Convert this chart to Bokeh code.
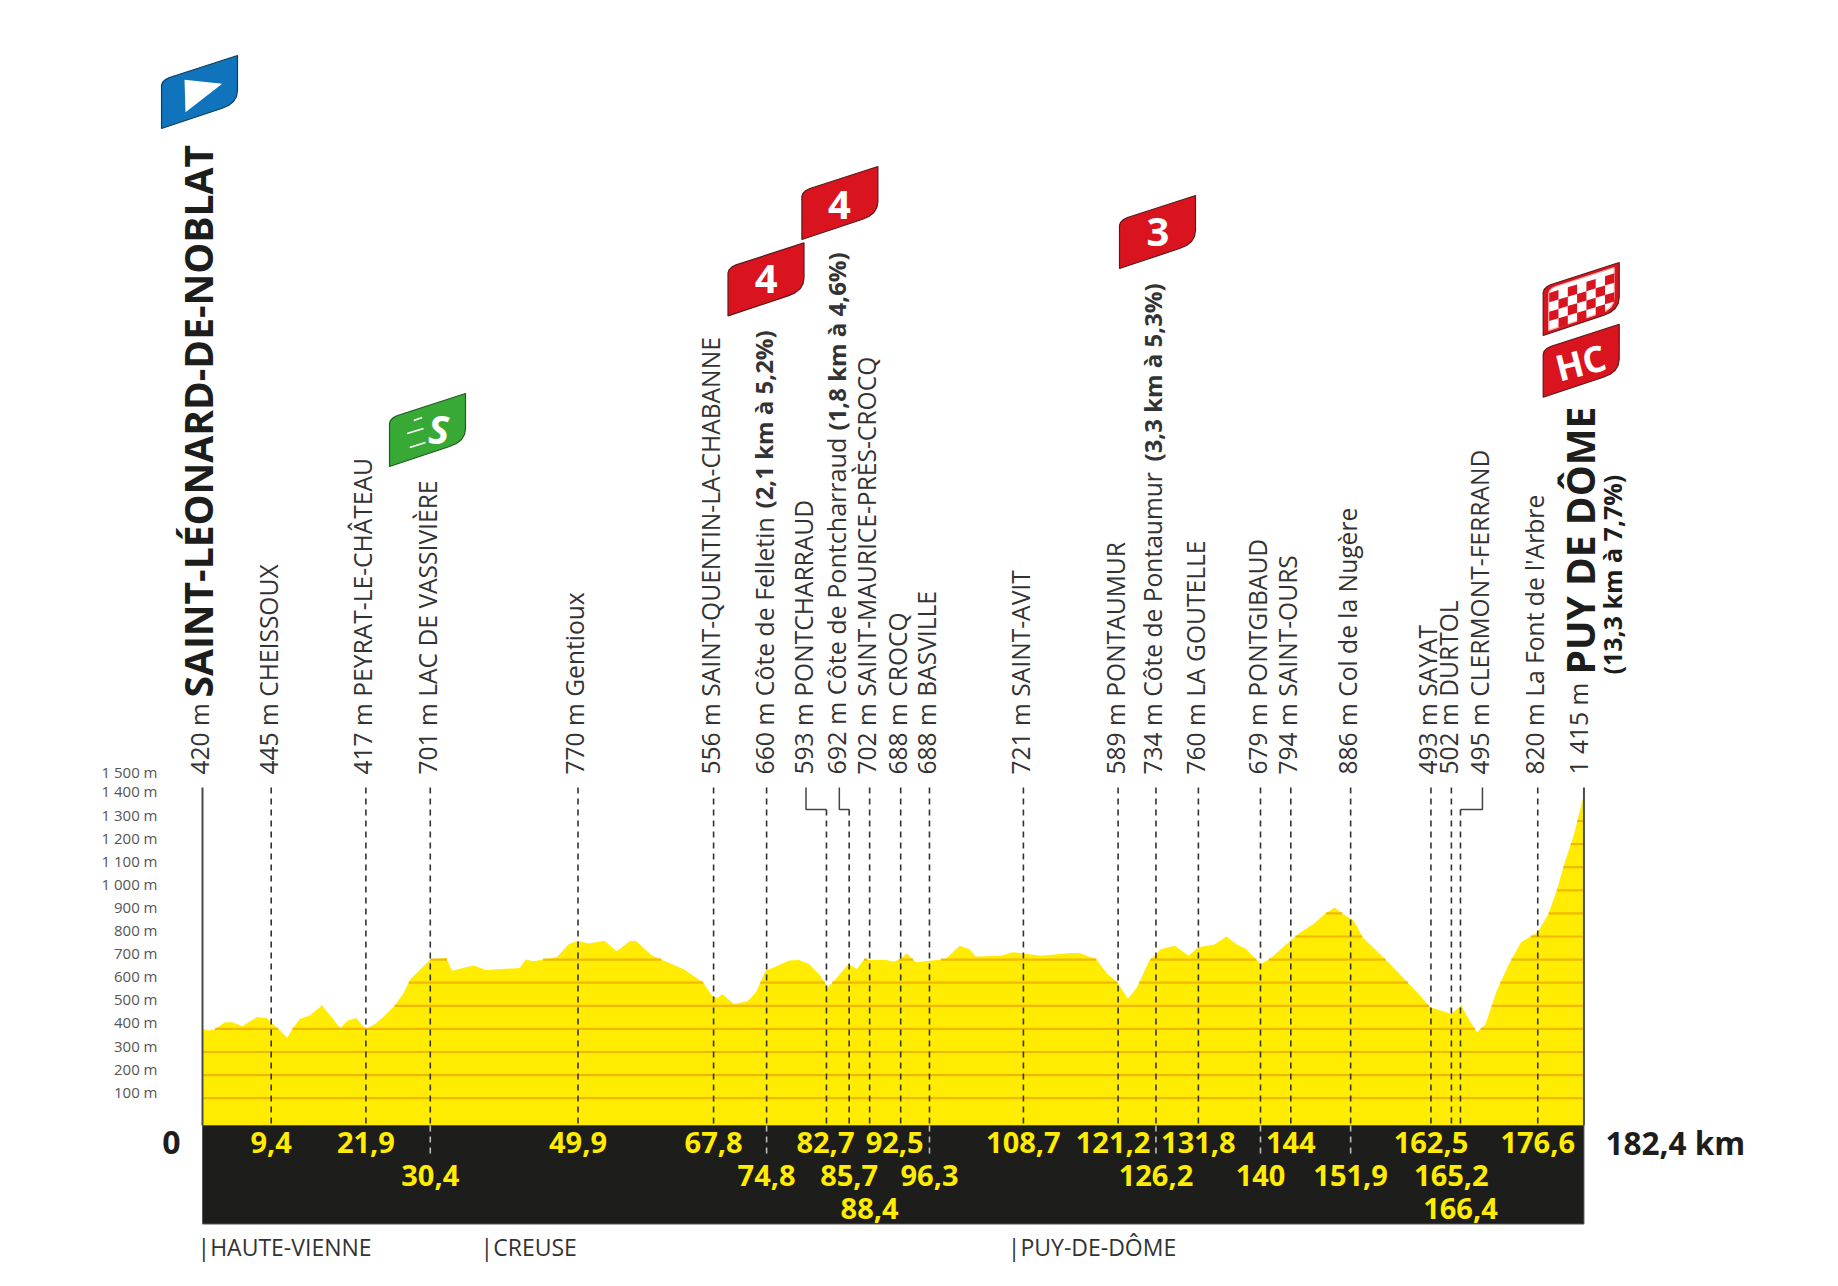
import numpy as np
from bokeh.plotting import figure
from bokeh.models import Range1d, LinearAxis, FixedTicker, ColumnDataSource
from bokeh.core.properties import value
from bokeh.embed import file_html
from bokeh.resources import INLINE

# ---------- data ----------
profile_km = [0.33,1.2,2.0,3.3,4.3,5.6,6.4,7.5,8.8,9.6,10.6,11.5,12.2,13.2,14.5,16.1,17.4,18.5,19.5,20.6,21.9,23.1,24.4,25.7,26.8,27.8,28.9,30.4,32.5,33.3,35.1,36.2,37.7,42.2,43.0,44.0,47.1,48.7,49.9,51.3,53.4,55.0,56.8,57.6,59.7,61.2,63.8,66.4,67.6,68.4,68.9,70.5,72.3,73.4,74.7,76.0,77.8,79.1,80.4,81.7,82.9,84.1,85.6,86.7,87.7,88.5,90.6,91.6,92.4,93.3,94.5,96.3,98.4,100.3,101.6,102.4,105.7,107.3,111.0,114.9,116.2,118.3,119.8,121.1,122.5,123.7,125.3,126.9,128.7,130.5,131.8,133.9,135.5,136.8,138.1,140.0,141.2,144.2,145.1,147.0,148.5,149.8,150.9,152.2,152.7,153.5,155.1,157.1,159.2,161.1,162.4,163.9,165.2,166.5,167.6,168.6,169.7,171.2,172.8,174.4,176.6,178.0,179.1,180.1,181.4,182.7]
profile_alt = [400,393,400,429,429,411,429,450,447,421,393,361,400,444,458,501,450,403,436,447,400,421,458,501,551,616,652,700,707,652,667,674,655,664,700,693,710,768,782,770,782,736,782,779,717,696,659,602,544,534,551,508,520,559,652,670,696,698,681,638,580,623,681,659,702,698,698,691,702,727,688,695,702,760,745,713,717,732,717,729,727,702,638,602,530,580,695,746,760,717,753,765,800,768,746,681,702,789,814,854,897,926,897,871,847,796,746,681,609,544,494,479,465,501,436,385,421,566,681,775,818,897,998,1114,1244,1415]

station_km = [9.4,21.9,30.4,49.9,67.8,74.8,82.7,85.7,88.4,92.5,96.3,108.7,121.2,126.2,131.8,140,144,151.9,162.5,165.2,166.4,176.6]
station_label_km = [9.4,21.9,30.4,49.9,67.8,74.8,80.0,84.4,88.4,92.5,96.3,108.7,121.2,126.2,131.8,140,144,151.9,162.5,165.2,169.3,176.6]
station_alt = [445,417,701,770,556,660,593,692,702,688,688,721,589,734,760,679,794,886,493,502,495,820]
station_name = ["CHEISSOUX","PEYRAT-LE-CHÂTEAU","LAC DE VASSIVIÈRE","Gentioux","SAINT-QUENTIN-LA-CHABANNE","Côte de Felletin","PONTCHARRAUD","Côte de Pontcharraud","SAINT-MAURICE-PRÈS-CROCQ","CROCQ","BASVILLE","SAINT-AVIT","PONTAUMUR","Côte de Pontaumur","LA GOUTELLE","PONTGIBAUD","SAINT-OURS","Col de la Nugère","SAYAT","DURTOL","CLERMONT-FERRAND","La Font de l'Arbre"]
band_km_text = ["9,4","21,9","30,4","49,9","67,8","74,8","82,7","85,7","88,4","92,5","96,3","108,7","121,2","126,2","131,8","140","144","151,9","162,5","165,2","166,4","176,6"]
band_row = [0,0,1,0,0,1,0,1,2,0,1,0,0,1,0,1,0,1,0,1,2,0]
band_dx = [0,0,0,0,0,0,-1,0,0,-6,0,0,-5,0,0,0,0,0,0,0,0,0]
climb_text = ["(2,1 km à 5,2%)","(1,8 km à 4,6%)","(3,3 km à 5,3%)"]
climb_label_km = [74.8,84.4,126.2]
grid_levels = list(range(100,1400,100))
tick_values = [100,200,300,400,500,600,700,800,900,1000,1100,1200,1300,1400,1483]
tick_labels = ["100 m","200 m","300 m","400 m","500 m","600 m","700 m","800 m","900 m","1 000 m","1 100 m","1 200 m","1 300 m","1 400 m","1 500 m"]
dept_km = [0.33,37.7,107.3]
dept_names = ["|HAUTE-VIENNE","|CREUSE","|PUY-DE-DÔME"]
start_name, start_alt = "SAINT-LÉONARD-DE-NOBLAT", "420 m"
finish_name, finish_alt, finish_climb = "PUY DE DÔME", "1 415 m", "(13,3 km à 7,7%)"
distance_text = "182,4 km"

# ---------- scale ----------
W, H = 1822, 1270
PAD_L = 160
SX, X0 = 7.575, 199.5      # px per km, px of km 0
SY, Y0 = 0.231, 1120.8     # px per m,  px of 0 m
def X(px): return (np.asarray(px, float) - X0) / SX
def Y(py): return (Y0 - np.asarray(py, float)) / SY

FONT = value("Open Sans")
TXT = "#333333"
BLACK = "#1d1d1b"
YEL = "#FFEC00"
p = figure(width=W, height=H, toolbar_location=None, output_backend="svg",
           x_axis_type=None, y_axis_type=None,
           x_range=Range1d(float(X(PAD_L)), float(X(W))),
           y_range=Range1d(float(Y(H)), float(Y(0))),
           min_border_left=PAD_L, min_border_right=0, min_border_top=0, min_border_bottom=0,
           outline_line_color=None)
p.grid.visible = False

# tick axis: its labels sit slightly above the gridlines, as in the reference
shift = 6.5 / SY
p.extra_y_ranges = {"ticks": Range1d(float(Y(H)) - shift, float(Y(0)) - shift)}
ax = LinearAxis(y_range_name="ticks", ticker=FixedTicker(ticks=tick_values),
                major_label_overrides=dict(zip(tick_values, tick_labels)),
                axis_line_color=None, major_tick_line_color=None, minor_tick_line_color=None,
                major_tick_out=0, major_tick_in=0, major_label_standoff=3,
                major_label_text_font="Open Sans", major_label_text_font_size="15px",
                major_label_text_color="#555555")
p.add_layout(ax, "left")

band_top = float(Y(1125)); band_bot = float(Y(1223.5))
line_top = float(Y(787)); conn_y = float(Y(809))

# profile
p.varea(x=profile_km, y1=[band_top]*len(profile_km), y2=profile_alt, fill_color=YEL)

# gridlines clipped to the profile
kx = np.array(profile_km, float); ky = np.array(profile_alt, float)
gx0, gx1, gy = [], [], []
for lvl in grid_levels:
    above = ky >= lvl
    start = kx[0] if above[0] else None
    for i in range(1, len(kx)):
        if above[i] != above[i-1]:
            c = kx[i-1] + (lvl-ky[i-1])*(kx[i]-kx[i-1])/(ky[i]-ky[i-1])
            if above[i]:
                start = c
            else:
                gx0.append(start); gx1.append(c); gy.append(lvl)
    if above[-1]:
        gx0.append(start); gx1.append(kx[-1]); gy.append(lvl)
p.segment(gx0, gy, gx1, gy, line_color="#F2B800", line_width=2.2)

# black band
p.quad(left=[profile_km[0]], right=[profile_km[-1]], top=[band_top], bottom=[band_bot],
       fill_color=BLACK, line_color="#555555", line_width=1)

# start/finish poles
p.segment([profile_km[0], profile_km[-1]], [line_top]*2, [profile_km[0], profile_km[-1]], [band_top]*2,
          line_color="#4a4a4a", line_width=2)

# dashed station lines
has_conn = [a != b for a, b in zip(station_km, station_label_km)]
p.segment(station_km, [conn_y if c else line_top for c in has_conn], station_km, [band_top]*len(station_km),
          line_color="#333333", line_width=1.6, line_dash="6 5")
in_band = [k for k, r, c in zip(station_km, band_row, has_conn) if r == 1 and not c and k != 165.2]
p.segment(in_band, [band_top]*len(in_band), in_band, [float(Y(1157))]*len(in_band),
          line_color="#bbbbbb", line_width=1.6, line_dash="6 5")
for k, lk, c in zip(station_km, station_label_km, has_conn):
    if c:
        p.line([lk, lk, k], [line_top, conn_y, conn_y], line_color="#444444", line_width=1.5)

# rotated labels
label_base = float(Y(774))
size_by_name = {"Côte de Felletin": "24.8px", "Côte de Pontcharraud": "25.1px", "Côte de Pontaumur": "24.6px"}
lab = ColumnDataSource(dict(x=station_label_km, y=[label_base]*len(station_km),
                            t=[f"{a} m {n}" for a, n in zip(station_alt, station_name)],
                            s=[size_by_name.get(n, "24.6px") for n in station_name]))
p.text(x="x", y="y", text="t", source=lab, angle=np.pi/2, x_offset=-3, text_align="left", text_baseline="middle",
       text_font=FONT, text_font_size="s", text_color=TXT)
climb_py = [508, 430, 461]
p.text(x=climb_label_km, y=[float(Y(v)) for v in climb_py], text=climb_text, angle=np.pi/2, x_offset=-3,
       text_align="left", text_baseline="middle", text_font=FONT, text_font_style="bold",
       text_font_size="24px", text_color=TXT)
p.text(x=[0.33, 182.4], y=[label_base]*2, text=[start_alt, finish_alt], angle=np.pi/2, x_offset=-3,
       text_align="left", text_baseline="middle", text_font=FONT, text_font_size="24.6px", text_color=TXT)
p.text(x=[float(X(197))], y=[float(Y(697))], text=[start_name], angle=np.pi/2, text_align="left",
       text_baseline="middle", text_font=FONT, text_font_style="bold", text_font_size="39px", text_color=BLACK)
p.text(x=[float(X(1579))], y=[float(Y(674))], text=[finish_name], angle=np.pi/2, text_align="left",
       text_baseline="middle", text_font=FONT, text_font_style="bold", text_font_size="39px", text_color=BLACK)
p.text(x=[float(X(1611))], y=[float(Y(674))], text=[finish_climb], angle=np.pi/2, text_align="left",
       text_baseline="middle", text_font=FONT, text_font_style="bold", text_font_size="25px", text_color=BLACK)

# band numbers
row_py = [1142, 1175, 1208]
src = ColumnDataSource(dict(x=station_km, y=[float(Y(row_py[r])) for r in band_row], t=band_km_text, dx=band_dx))
p.text(x="x", y="y", text="t", x_offset="dx", source=src, text_align="center", text_baseline="middle",
       text_font=FONT, text_font_style="bold", text_font_size="29px", text_color=YEL)
p.text(x=[float(X(171))], y=[float(Y(1142))], text=["0"], text_align="center", text_baseline="middle",
       text_font=FONT, text_font_style="bold", text_font_size="32px", text_color=BLACK)
p.text(x=[float(X(1605))], y=[float(Y(1142))], text=[distance_text], text_align="left", text_baseline="middle",
       text_font=FONT, text_font_style="bold", text_font_size="31.5px", text_color=BLACK)

# departments
p.text(x=dept_km, y=[float(Y(1246))]*3, text=dept_names, x_offset=-5, text_align="left", text_baseline="middle",
       text_font=FONT, text_font_size="23px", text_color=TXT)

# flags: local outline relative to bottom-left corner, px
FLAG = np.array([(0,0),(0,-43),(1,-46),(4,-49),(8,-51),(76,-73),(76,-38),(75,-32),(72,-27),(67,-23),(60,-20)], float)
def flag(bx, by, fill, edge="#5a1a1a", inset=0.0):
    pts = FLAG.copy()
    if inset:
        c = pts.mean(axis=0); pts = c + (pts-c)*inset
    p.patch(X(bx+pts[:,0]).tolist(), Y(by+pts[:,1]).tolist(), fill_color=fill, line_color=edge, line_width=1.2)

RED = "#D9141E"
flag(161,128,"#0F74BB","#123a5c")
p.patch(X([184,221.7,185]).tolist(), Y([79.3,83.3,111.7]).tolist(), fill_color="white", line_color=None)
flag(389,466,"#38A935","#1f5c1f")
flag(727.5,315.4,RED)
flag(801.4,239,RED)
flag(1119,268,RED)
flag(1542.7,396.7,RED)
flag(1542.7,335,RED)
flag(1542.7,335,"white","#f7b6b6",inset=0.86)
# checker squares on the skewed flag
cw = 9.3; ch = 9.4; ox = 1542.7+6; oy = 335-5; slope = -0.3
for c in range(7):
    for r in range(4):
        if (c+r) % 2 == 0 or (c >= 6 and r == 0):
            continue
        x0 = ox+c*cw; x1 = x0+cw
        yb0 = oy+slope*(x0-ox)-r*ch; yb1 = oy+slope*(x1-ox)-r*ch
        p.patch(X([x0,x1,x1,x0]).tolist(), Y([yb0,yb1,yb1-ch,yb0-ch]).tolist(), fill_color=RED, line_color=None)

p.text(x=X([765.7,839,1157.5]).tolist(), y=Y([278,204,231]).tolist(), text=["4","4","3"],
       text_align="center", text_baseline="middle", text_font=FONT, text_font_style="bold",
       text_font_size="40px", text_color="white")
p.text(x=[float(X(1580))], y=[float(Y(362))], text=["HC"], angle=0.25, text_align="center", text_baseline="middle",
       text_font=FONT, text_font_style="bold", text_font_size="36px", text_color="white")
p.text(x=[float(X(438))], y=[float(Y(428))], text=["S"], text_align="center", text_baseline="middle",
       text_font=FONT, text_font_style="bold italic", text_font_size="40px", text_color="white")
p.segment(X([413.3,406.7,409.3]).tolist(), Y([420,433,447]).tolist(), X([421.7,423,425]).tolist(), Y([417,428,442]).tolist(),
          line_color="white", line_width=1.6)

open("out.html", "w").write(file_html(p, INLINE))
